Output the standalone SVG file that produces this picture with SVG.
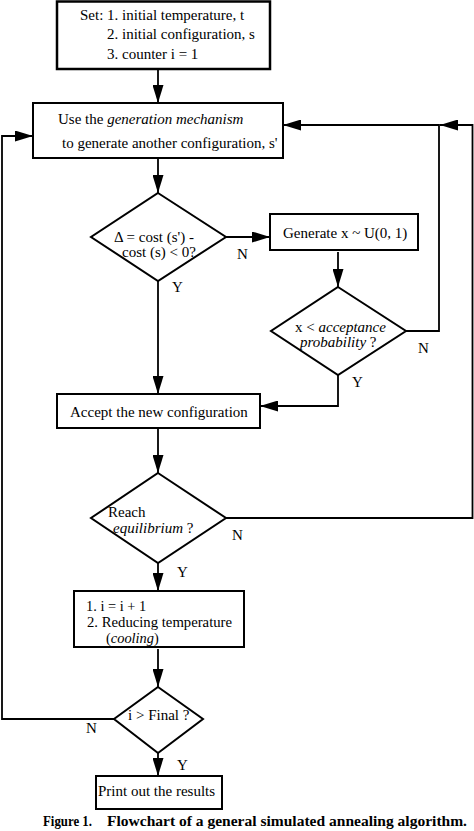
<svg xmlns="http://www.w3.org/2000/svg" width="474" height="831" viewBox="0 0 474 831">
<style>
  .box { fill: #fff; stroke: #000; stroke-width: 2; }
  .dia { fill: #fff; stroke: #000; stroke-width: 2; stroke-linejoin: miter; }
  .con { fill: none; stroke: #000; stroke-width: 1.8; }
  text { font-family: "Liberation Serif", "Times New Roman", serif; font-size: 15px; fill: #000; }
  .it { font-style: italic; }
  .lbl { font-size: 15px; }
  .cl { font-size: 14.4px; }
  .cap { font-weight: bold; font-size: 15px; }
</style>
<defs>
  <marker id="ah" markerUnits="userSpaceOnUse" markerWidth="18" markerHeight="11" refX="18" refY="5.5" orient="auto">
    <path d="M0,0 L18,5.5 L0,11 z" fill="#000"/>
  </marker>
</defs>
<rect width="474" height="831" fill="#fff"/>

<g id="connectors">
  <path class="con" d="M158,69 V103" marker-end="url(#ah)"/>
  <path class="con" d="M158,158 V193" marker-end="url(#ah)"/>
  <path class="con" d="M226,237 H270" marker-end="url(#ah)"/>
  <path class="con" d="M338,252 V287" marker-end="url(#ah)"/>
  <path class="con" d="M338,375 V406 H260" marker-end="url(#ah)"/>
  <path class="con" d="M158,281 V394" marker-end="url(#ah)"/>
  <path class="con" d="M406,331 H439 V125 H283" marker-end="url(#ah)"/>
  <path class="con" d="M226,518 H472.5 V125 H440" marker-end="url(#ah)"/>
  <path class="con" d="M158,428 V473" marker-end="url(#ah)"/>
  <path class="con" d="M158,563 V591" marker-end="url(#ah)"/>
  <path class="con" d="M158,649 V687" marker-end="url(#ah)"/>
  <path class="con" d="M158,753 V776" marker-end="url(#ah)"/>
  <path class="con" d="M114,719 H2 V136 H33" marker-end="url(#ah)"/>
  <text class="lbl" x="237" y="259">N</text>
  <text class="lbl" x="172" y="292">Y</text>
  <text class="lbl" x="418" y="353">N</text>
  <text class="lbl" x="352" y="387">Y</text>
  <text class="lbl" x="232" y="540">N</text>
  <text class="lbl" x="177" y="577">Y</text>
  <text class="lbl" x="86" y="733">N</text>
  <text class="lbl" x="177" y="770">Y</text>
</g>

<g id="init">
  <rect class="box" x="57" y="1.5" width="213" height="67.5" style="stroke-width:2.5"/>
  <text x="80" y="20">Set: 1. initial temperature, t</text>
  <text x="107" y="39">2. initial configuration, s</text>
  <text x="107" y="59">3. counter i = 1</text>
</g>

<g id="generate-config">
  <rect class="box" x="33" y="103" width="250" height="55"/>
  <text x="58" y="124">Use the <tspan class="it">generation mechanism</tspan></text>
  <text x="62" y="148">to generate another configuration, s'</text>
</g>

<g id="delta-decision">
  <polygon class="dia" points="158,193 226,237 158,281 91,237"/>
  <text x="114" y="242">Δ = cost (s') -</text>
  <text x="122" y="257">cost (s) &lt; 0?</text>
</g>

<g id="generate-x">
  <rect class="box" x="270" y="214" width="148" height="36"/>
  <text x="283" y="238">Generate x ~ U(0, 1)</text>
</g>

<g id="acceptance-decision">
  <polygon class="dia" points="338,287 406,331 338,375 271,331"/>
  <text x="295" y="332">x &lt; <tspan class="it">acceptance</tspan></text>
  <text x="300" y="347"><tspan class="it">probability</tspan> ?</text>
</g>

<g id="accept">
  <rect class="box" x="57" y="394" width="203" height="34"/>
  <text x="70" y="417">Accept the new configuration</text>
</g>

<g id="equilibrium-decision">
  <polygon class="dia" points="158,473 226,518 158,563 91,518"/>
  <text x="108" y="517">Reach</text>
  <text x="113" y="533"><tspan class="it">equilibrium</tspan> ?</text>
</g>

<g id="cooling">
  <rect class="box" x="74" y="591" width="170" height="56"/>
  <text class="cl" x="86" y="611">1. i = i + 1</text>
  <text class="cl" x="87" y="627" textLength="145" lengthAdjust="spacingAndGlyphs">2. Reducing temperature</text>
  <text class="cl" x="106" y="643">(<tspan class="it">cooling</tspan>)</text>
</g>

<g id="final-decision">
  <polygon class="dia" points="158,687 203,719 158,753 114,719"/>
  <text x="128" y="720">i &gt; Final ?</text>
</g>

<g id="print">
  <rect class="box" x="96" y="776" width="126" height="33"/>
  <text x="98" y="796">Print out the results</text>
</g>

<g id="caption">
  <text class="cap" x="43" y="826" textLength="49" lengthAdjust="spacingAndGlyphs">Figure 1.</text>
  <text class="cap" x="107" y="826" textLength="360" lengthAdjust="spacingAndGlyphs">Flowchart of a general simulated annealing algorithm.</text>
</g>
</svg>
